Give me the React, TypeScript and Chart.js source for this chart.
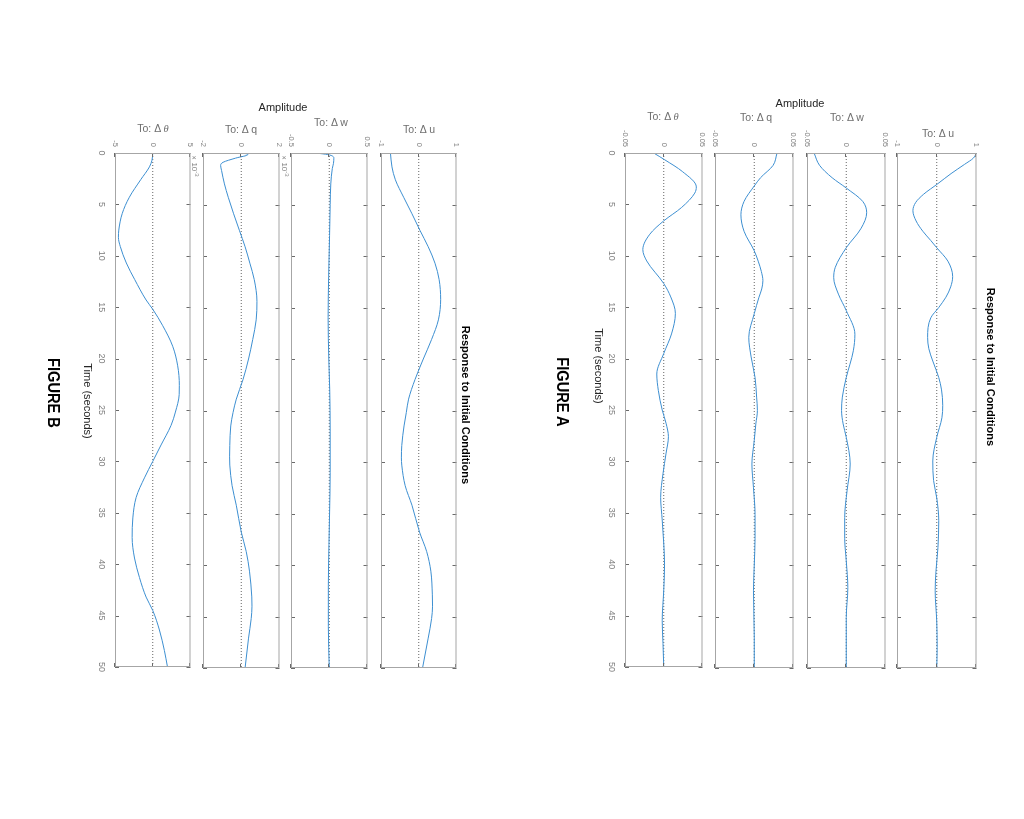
import { useEffect, useRef } from 'react';
import { Chart, ChartConfiguration, registerables } from 'chart.js';

Chart.register(...registerables);

// time axis (seconds)
const TIME_TICKS = [0, 5, 10, 15, 20, 25, 30, 35, 40, 45, 50];

// amplitude tick values
const SMALL_TICKS = [-0.05, 0, 0.05];
const UNIT_TICKS = [-1, 0, 1];
const HALF_TICKS = [-0.5, 0, 0.5];
const Q_E3_TICKS = [-2, 0, 2];
const THETA_E3_TICKS = [-5, 0, 5];

// FIGURE A responses, [time, value]
const A_DU: [number, number][] = [
    [0, 1.0], [0.5, 0.92], [1.1, 0.7], [2, 0.36], [3, 0.02], [4, -0.33], [4.8, -0.53], [5.6, -0.6],
    [6.6, -0.52], [7.6, -0.35], [8.5, -0.15], [9.2, 0], [10.5, 0.28], [12, 0.4], [13, 0.35],
    [14, 0.23], [15, 0.05], [16, -0.15], [17.9, -0.23], [19, -0.2], [20.2, -0.1], [21.8, 0.05],
    [23, 0.12], [24.5, 0.15], [25.7, 0.13], [27.6, 0], [29.9, -0.1], [31.8, -0.08], [33.5, 0],
    [35.7, 0.05], [38.3, 0.03], [40.6, -0.02], [42.5, -0.04], [45.5, 0], [48, 0.01], [50, 0],
];
const A_DW: [number, number][] = [
    [0, -0.041], [1.2, -0.034], [2.4, -0.018], [3.4, 0], [4.7, 0.021], [5.8, 0.026], [7.3, 0.019],
    [9.2, 0], [11.1, -0.014], [12.1, -0.016], [13.7, -0.01], [15.3, 0], [17.6, 0.011], [19.2, 0.009],
    [21.8, 0], [23.7, -0.005], [25, -0.006], [26.3, -0.004], [27.6, 0], [30.2, 0.005], [32.8, 0.001],
    [35.4, -0.002], [37.4, -0.002], [39.6, 0], [42.2, 0.002], [45.1, 0], [50, 0],
];
const A_DQ: [number, number][] = [
    [0, 0.029], [1.2, 0.024], [2.4, 0.008], [3.2, 0], [4.7, -0.013], [6, -0.017], [7.6, -0.013],
    [9.5, 0], [10.5, 0.005], [11.5, 0.009], [12.4, 0.011], [13.2, 0.0095], [14, 0.006], [15.6, 0],
    [17.9, -0.007], [19.8, -0.004], [21.8, 0.001], [23.7, 0.003], [25, 0.004], [26.3, 0.002], [27.9, 0],
    [30.2, -0.003], [32.5, -0.001], [35.1, 0.001], [37.4, 0.001], [40, 0], [42.5, -0.001], [47, 0], [50, 0],
];
const A_DTHETA: [number, number][] = [
    [0, -0.013], [0.65, 0.001], [1.8, 0.024], [3.3, 0.042], [3.9, 0.04], [5.3, 0.023], [6.6, 0],
    [7.9, -0.018], [9.4, -0.027], [10.5, -0.022], [12.7, 0], [14, 0.009], [15.6, 0.015], [17.6, 0.01],
    [19.5, 0], [21.5, -0.009], [23.1, -0.007], [25, -0.002], [26.3, 0.003], [27.6, 0.006], [29.2, 0.003],
    [31.2, -0.001], [33.5, -0.004], [35.7, -0.002], [38, 0], [40, 0.001], [42.5, 0], [45.5, -0.002],
    [47.7, -0.001], [50, 0],
];

// FIGURE B responses, [time, value]; q and theta are in units of 1e-3
const B_DU: [number, number][] = [
    [0, -0.75], [1.35, -0.71], [2.6, -0.62], [4.3, -0.4], [5.9, -0.18], [7.5, 0.03], [9.1, 0.25],
    [10.7, 0.43], [12.3, 0.54], [14.2, 0.58], [16.2, 0.52], [18.1, 0.34], [20, 0.12], [22, -0.1],
    [23.9, -0.27], [25.2, -0.33], [26.5, -0.39], [28.4, -0.45], [29.6, -0.46], [30.3, -0.45],
    [32.3, -0.36], [34.2, -0.18], [36.8, 0.02], [38.7, 0.21], [40.6, 0.32], [42.9, 0.36], [44, 0.365],
    [45.2, 0.34], [47.1, 0.25], [50, 0.1],
];
const B_DW: [number, number][] = [
    [0, -0.18], [0.15, -0.02], [0.5, 0.06], [1, 0.055], [1.5, 0.04], [3, 0.02], [5, 0.012], [8, 0.004],
    [12, -0.008], [16, -0.015], [20, -0.006], [23, 0.006], [27, 0.012], [31, 0.012], [35, 0.004],
    [38, -0.004], [42, -0.012], [46, -0.012], [50, 0],
];
const B_DQ: [number, number][] = [
    [0, 0.1], [0.15, 0.35], [0.5, -0.3], [0.9, -0.95], [1.2, -1.08], [1.7, -1.03], [3, -0.88],
    [4.3, -0.68], [5.9, -0.4], [7.5, -0.1], [9.1, 0.2], [10.7, 0.45], [12.3, 0.68], [14.4, 0.82],
    [16.2, 0.78], [18.1, 0.6], [20, 0.38], [22, 0.09], [23.9, -0.26], [25.2, -0.43], [26.5, -0.55],
    [28.4, -0.6], [29.5, -0.61], [30.3, -0.6], [32.3, -0.48], [34.2, -0.26], [36.8, 0], [38.7, 0.26],
    [40.6, 0.43], [43.1, 0.55], [44, 0.56], [45.2, 0.52], [47.1, 0.38], [50, 0.2],
];
const B_DTHETA: [number, number][] = [
    [0, 0], [0.7, -0.1], [1.35, -0.44], [2.6, -1.6], [4.3, -3.1], [5.9, -4.05], [7.5, -4.5], [8.2, -4.55],
    [9.1, -4.3], [10.7, -3.5], [12.3, -2.4], [14.3, -0.88], [15.2, 0], [16.8, 1.32], [18.8, 2.64],
    [20.7, 3.3], [22.6, 3.52], [23.5, 3.5], [25.2, 3.0], [26.5, 2.42], [28.4, 1.1], [30, 0], [31.6, -1.1],
    [33.5, -2.2], [35.5, -2.64], [37.4, -2.73], [39.4, -2.42], [41.3, -1.76], [43.2, -0.88], [44.5, 0],
    [46.4, 0.88], [48.4, 1.54], [50, 1.95],
];

const LINE_COLOR = '#3d8fd1';
const BOX_COLOR = '#a6a6a6';
const TICK_COLOR = '#808080';
const FONT = "'Liberation Sans', Arial, sans-serif";

// plot geometry, in the un-rotated frame (the whole figure is turned 90deg clockwise)
const PLOT_LEFT = 153;
const PLOT_W = 515;
const AXIS_W = 50;
const PAD_TOP = 10;
const PAD_RIGHT = 12;
const AXIS_H = 25;

interface PanelSpec {
    points: [number, number][];
    min: number;
    max: number;
    ticks: number[];
    top: number;
    height: number;
    showTime: boolean;
}

const panels: PanelSpec[] = [
    { points: A_DU, min: -1, max: 1, ticks: UNIT_TICKS, top: 47, height: 80, showTime: false },
    { points: A_DW, min: -0.05, max: 0.05, ticks: SMALL_TICKS, top: 138, height: 79, showTime: false },
    { points: A_DQ, min: -0.05, max: 0.05, ticks: SMALL_TICKS, top: 230, height: 79, showTime: false },
    { points: A_DTHETA, min: -0.05, max: 0.05, ticks: SMALL_TICKS, top: 321, height: 78, showTime: true },
    { points: B_DU, min: -1, max: 1, ticks: UNIT_TICKS, top: 567, height: 76, showTime: false },
    { points: B_DW, min: -0.5, max: 0.5, ticks: HALF_TICKS, top: 656, height: 77, showTime: false },
    { points: B_DQ, min: -2, max: 2, ticks: Q_E3_TICKS, top: 744, height: 77, showTime: false },
    { points: B_DTHETA, min: -5, max: 5, ticks: THETA_E3_TICKS, top: 833, height: 76, showTime: true },
];

// MATLAB style box with inward tick marks on every side
const boxPlugin = {
    id: 'matlabBox',
    afterDraw(chart: Chart) {
        const { ctx, chartArea: a } = chart;
        const xs = chart.scales.x;
        const ys = chart.scales.y;
        const tl = 4;
        ctx.save();
        ctx.lineWidth = 1;
        ctx.strokeStyle = '#6a6a6a';
        ctx.beginPath();
        xs.ticks.forEach((t) => {
            const px = Math.round(xs.getPixelForValue(t.value)) + 0.5;
            ctx.moveTo(px, a.top);
            ctx.lineTo(px, a.top + tl);
            ctx.moveTo(px, a.bottom);
            ctx.lineTo(px, a.bottom - tl);
        });
        ys.ticks.forEach((t) => {
            const py = Math.round(ys.getPixelForValue(t.value)) + 0.5;
            ctx.moveTo(a.left, py);
            ctx.lineTo(a.left + tl, py);
            ctx.moveTo(a.right, py);
            ctx.lineTo(a.right - tl, py);
        });
        ctx.stroke();
        ctx.strokeStyle = BOX_COLOR;
        ctx.strokeRect(a.left + 0.5, a.top + 0.5, a.right - a.left - 1, a.bottom - a.top - 1);
        ctx.restore();
    },
};

function buildConfig(p: PanelSpec): ChartConfiguration<'line'> {
    return {
        type: 'line',
        data: {
            datasets: [
                {
                    data: p.points.map(([x, y]) => ({ x, y })),
                    borderColor: LINE_COLOR,
                    borderWidth: 1,
                    pointRadius: 0,
                    cubicInterpolationMode: 'monotone',
                    fill: false,
                },
                {
                    // zero reference
                    data: [{ x: TIME_TICKS[0], y: 0 }, { x: TIME_TICKS[TIME_TICKS.length - 1], y: 0 }],
                    borderColor: '#3c3c3c',
                    borderWidth: 0.8,
                    borderDash: [1, 2],
                    pointRadius: 0,
                    fill: false,
                },
            ],
        },
        options: {
            animation: false,
            responsive: false,
            events: [],
            layout: { padding: { top: PAD_TOP, right: PAD_RIGHT, left: 0, bottom: 0 } },
            plugins: { legend: { display: false }, tooltip: { enabled: false }, title: { display: false } },
            scales: {
                x: {
                    type: 'linear',
                    min: TIME_TICKS[0],
                    max: TIME_TICKS[TIME_TICKS.length - 1],
                    afterBuildTicks: (s) => {
                        s.ticks = TIME_TICKS.map((v) => ({ value: v }));
                    },
                    afterFit: (s) => {
                        s.height = AXIS_H;
                    },
                    grid: { display: false, drawTicks: false },
                    border: { display: false },
                    ticks: {
                        display: p.showTime,
                        padding: 8,
                        color: TICK_COLOR,
                        font: { family: FONT, size: 9 },
                        callback: (v) => String(v),
                    },
                },
                y: {
                    type: 'linear',
                    min: p.min,
                    max: p.max,
                    afterBuildTicks: (s) => {
                        s.ticks = p.ticks.map((v) => ({ value: v }));
                    },
                    afterFit: (s) => {
                        s.width = AXIS_W;
                    },
                    grid: { display: false, drawTicks: false },
                    border: { display: false },
                    ticks: {
                        padding: 6,
                        color: TICK_COLOR,
                        font: { family: FONT, size: 7.5 },
                        callback: (v) => String(v),
                    },
                },
            },
        },
        plugins: [boxPlugin],
    };
}

function Panel({ spec }: { spec: PanelSpec }) {
    const canvasRef = useRef<HTMLCanvasElement | null>(null);
    const w = AXIS_W + PLOT_W + PAD_RIGHT;
    const h = PAD_TOP + spec.height + AXIS_H;

    useEffect(() => {
        if (!canvasRef.current) return;
        const chart = new Chart(canvasRef.current, buildConfig(spec));
        return () => chart.destroy();
    }, [spec]);

    return (
        <canvas
            ref={canvasRef}
            width={w}
            height={h}
            style={{ position: 'absolute', left: PLOT_LEFT - AXIS_W, top: spec.top - PAD_TOP, width: w, height: h }}
        />
    );
}

interface LabelProps {
    x: number;
    y: number;
    vertical?: boolean;
    size: number;
    bold?: boolean;
    color?: string;
    squeeze?: number;
    children: React.ReactNode;
}

// text placed in page coordinates, centred on (x, y)
function Label({ x, y, vertical, size, bold, color, squeeze, children }: LabelProps) {
    const s = squeeze ?? 1;
    return (
        <div
            style={{
                position: 'absolute',
                left: x,
                top: y,
                transform: `translate(-50%, -50%) scale(1, ${s})`,
                writingMode: vertical ? 'vertical-rl' : 'horizontal-tb',
                whiteSpace: 'nowrap',
                fontFamily: FONT,
                fontSize: size,
                fontWeight: bold ? 'bold' : 'normal',
                color: color ?? '#262626',
                lineHeight: 1,
            }}
        >
            {children}
        </div>
    );
}

const Theta = () => <span style={{ fontFamily: "'Liberation Serif', serif", fontStyle: 'italic' }}>θ</span>;

const TO_COLOR = '#6e6e6e';

export default function App() {
    return (
        <div style={{ position: 'fixed', left: 0, top: 0, width: 1024, height: 819, background: '#fff', overflow: 'hidden' }}>
            <div
                style={{
                    position: 'absolute',
                    left: 0,
                    top: 0,
                    width: 819,
                    height: 1024,
                    transformOrigin: '0 0',
                    transform: 'translate(1024px, 0) rotate(90deg)',
                }}
            >
                {panels.map((p, i) => (
                    <Panel key={i} spec={p} />
                ))}
            </div>

            {/* FIGURE A */}
            <Label x={800} y={103} size={11}>Amplitude</Label>
            <Label x={663} y={117} size={10.5} color={TO_COLOR}>To: Δ <Theta /></Label>
            <Label x={756} y={117} size={10.5} color={TO_COLOR}>To: Δ q</Label>
            <Label x={847} y={117} size={10.5} color={TO_COLOR}>To: Δ w</Label>
            <Label x={938} y={133} size={10.5} color={TO_COLOR}>To: Δ u</Label>
            <Label x={990} y={367} size={11} bold vertical color="#000">Response to Initial Conditions</Label>
            <Label x={598} y={366} size={11} vertical>Time (seconds)</Label>
            <Label x={562} y={392} size={17} bold vertical color="#000" squeeze={0.86}>FIGURE A</Label>

            {/* FIGURE B */}
            <Label x={283} y={107} size={11}>Amplitude</Label>
            <Label x={153} y={129} size={10.5} color={TO_COLOR}>To: Δ <Theta /></Label>
            <Label x={241} y={129} size={10.5} color={TO_COLOR}>To: Δ q</Label>
            <Label x={331} y={122} size={10.5} color={TO_COLOR}>To: Δ w</Label>
            <Label x={419} y={129} size={10.5} color={TO_COLOR}>To: Δ u</Label>
            <Label x={195} y={165} size={8} vertical color={TICK_COLOR}>×10<sup style={{ fontSize: 6 }}>-3</sup></Label>
            <Label x={285} y={165} size={8} vertical color={TICK_COLOR}>×10<sup style={{ fontSize: 6 }}>-3</sup></Label>
            <Label x={465} y={405} size={11} bold vertical color="#000">Response to Initial Conditions</Label>
            <Label x={87} y={401} size={11} vertical>Time (seconds)</Label>
            <Label x={53} y={393} size={17} bold vertical color="#000" squeeze={0.86}>FIGURE B</Label>
        </div>
    );
}
